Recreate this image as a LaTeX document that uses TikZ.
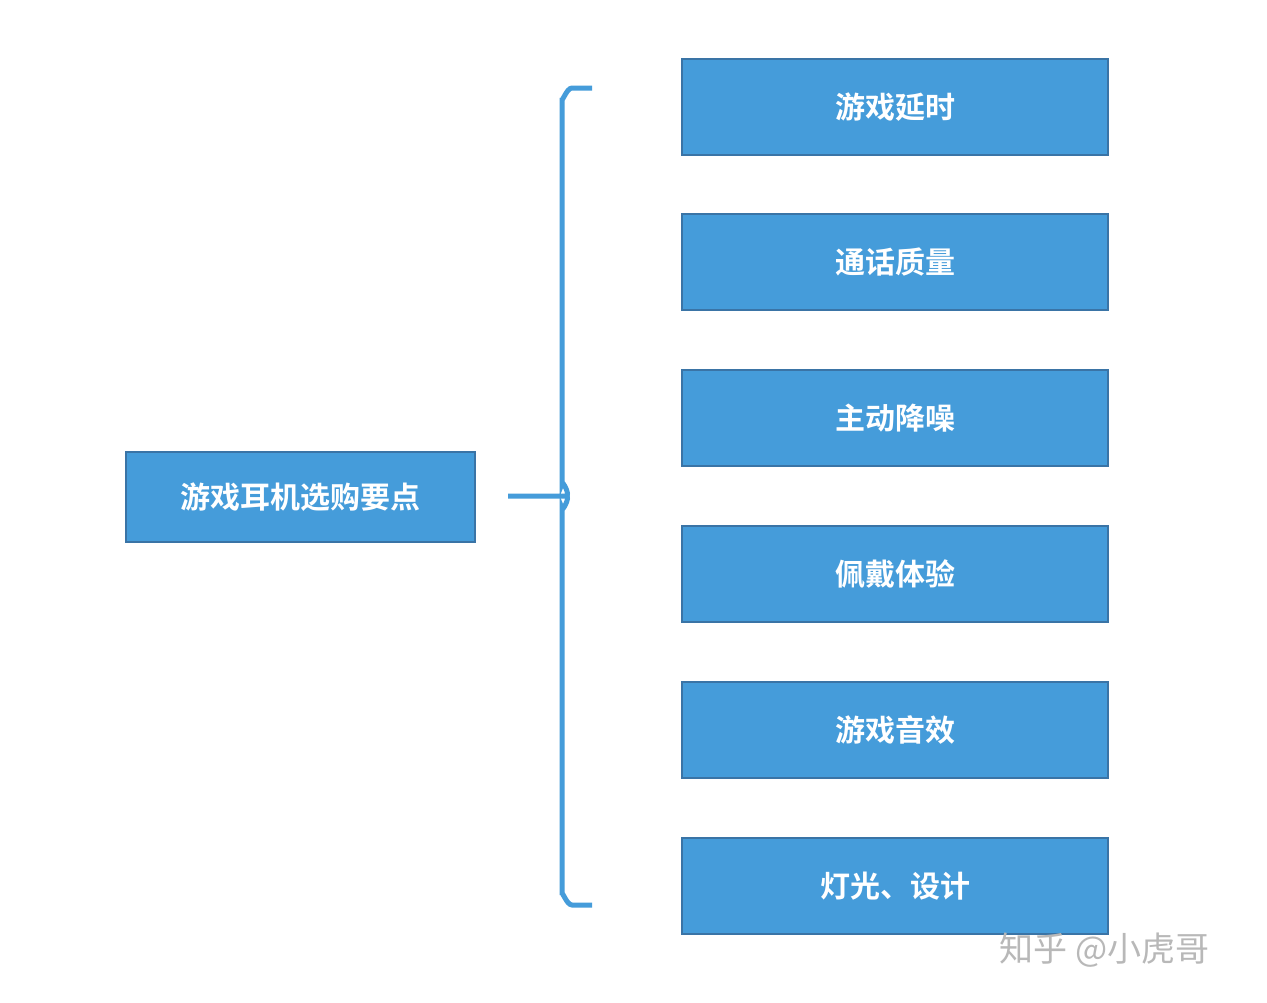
\documentclass[tikz,border=0pt]{standalone}
\usepackage{fontspec}
\newfontfamily\cjk{Noto Sans CJK SC}
\newfontfamily\cjkb{Noto Sans CJK SC Bold}
\definecolor{boxfill}{HTML}{459CDA}
\definecolor{boxline}{HTML}{3A74A6}
\definecolor{wm}{HTML}{B8B8B8}
\begin{document}
\begin{tikzpicture}[x=1pt,y=-1pt,
  itembox/.style={draw=boxline,line width=1.5pt,fill=boxfill,minimum width=426pt,minimum height=96pt,inner sep=0pt,text=white,font=\cjkb\fontsize{30}{34}\selectfont},
  rootbox/.style={itembox,minimum width=349pt,minimum height=90pt},
  bracel/.style={draw=boxfill,line width=5pt}]
\useasboundingbox (0,0) rectangle (1267,1002);
\fill[white] (0,0) rectangle (1267,1002);
\node[rootbox] (root) at (300.5,497) {游戏耳机选购要点};
\foreach \t/\y [count=\i] in {游戏延时/107,通话质量/262,主动降噪/418,佩戴体验/574,游戏音效/730,灯光、设计/886}
  \node[itembox] (b\i) at (895,\y) {\t};
\coordinate (bt) at (592,88);
\coordinate (bb) at (592,905);
\coordinate (bm) at (508,496);
\draw[bracel] (bt) -- (572,88) to[out=180,in=-90] (562,98) -- (562,484) to[out=90,in=0] (566,496) -- (bm);
\draw[bracel] (bb) -- (572,905) to[out=180,in=90] (562,895) -- (562,508) to[out=-90,in=0] (566,496);
\node[text=wm,font=\cjk\fontsize{34}{38}\selectfont,anchor=west] (wmk) at (996,950) {知乎 @小虎哥};
\end{tikzpicture}
\end{document}
